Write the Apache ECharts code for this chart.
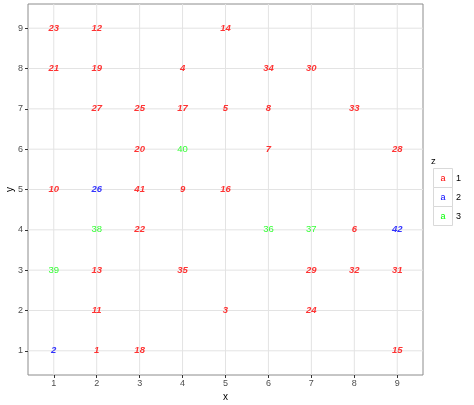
<!DOCTYPE html>
<html><head><meta charset="utf-8">
<script src="https://cdn.jsdelivr.net/npm/echarts@6/dist/echarts.min.js"></script>
<style>html,body{margin:0;padding:0;background:#fff}#c{width:474px;height:405px}</style>
</head><body><div id="c"></div>
<script>
// Data
const xVals  = [1,2,5, 1,2,4,6,7, 2,3,4,5,6,8, 3,4,6,9, 1,2,3,4,5, 2,3,6,7,8,9, 1,2,4,7,8,9, 2,5,7, 1,2,3,9];
const yVals  = [9,9,9, 8,8,8,8,8, 7,7,7,7,7,7, 6,6,6,6, 5,5,5,5,5, 4,4,4,4,4,4, 3,3,3,3,3,3, 2,2,2, 1,1,1,1];
const labels = [23,12,14, 21,19,4,34,30, 27,25,17,5,8,33, 20,40,7,28, 10,26,41,9,16, 38,22,36,37,6,42, 39,13,35,29,32,31, 11,3,24, 2,1,18,15];
const groups = [1,1,1, 1,1,1,1,1, 1,1,1,1,1,1, 1,3,1,1, 1,2,1,1,1, 3,1,3,3,1,2, 3,1,1,1,1,1, 1,1,1, 2,1,1,1];
const groupNames = ['1','2','3'];
const groupColors = ['#FF0000','#0000FF','#00FF00'];
const xTicks = [1,2,3,4,5,6,7,8,9];
const yTicks = [1,2,3,4,5,6,7,8,9];

const chart = echarts.init(document.getElementById('c'), null, {renderer:'canvas'});
const FONT = 'Liberation Sans, Arial, sans-serif';

const textSeries = groupNames.map((g, gi) => {
  const data = [];
  for (let i = 0; i < xVals.length; i++) {
    if (groups[i] === gi + 1) data.push([xVals[i], yVals[i], labels[i]]);
  }
  const fancy = gi < 2;
  return {
    type: 'scatter', name: g, data: data, z: 5,
    symbolSize: 4,
    itemStyle: {color: 'rgba(0,0,0,0)'},
    label: {
      show: true, position: 'inside',
      formatter: p => String(p.value[2]),
      color: groupColors[gi], fontFamily: FONT, fontSize: 9.5,
      fontWeight: fancy ? 'bold' : 'normal',
      fontStyle: fancy ? 'italic' : 'normal'
    },
    emphasis: {disabled: true}, silent: true
  };
});

const gridColor = '#E3E3E3';
const vGrid = {
  type: 'custom', z: 1, silent: true,
  data: xTicks.map(v => [v, 1]),
  renderItem: (params, api) => {
    const p1 = api.coord([api.value(0), 0.4]);
    const p2 = api.coord([api.value(0), 9.6]);
    return {type: 'line', shape: {x1: p1[0], y1: p1[1], x2: p2[0], y2: p2[1]},
            style: {stroke: gridColor, lineWidth: 1}};
  }
};
const hGrid = {
  type: 'custom', z: 1, silent: true,
  data: yTicks.map(v => [1, v]),
  renderItem: (params, api) => {
    const p1 = api.coord([0.4, api.value(1)]);
    const p2 = api.coord([9.6, api.value(1)]);
    return {type: 'line', shape: {x1: p1[0], y1: p1[1], x2: p2[0], y2: p2[1]},
            style: {stroke: gridColor, lineWidth: 1}};
  }
};

// legend drawn as graphics
const legendGraphics = [
  {type: 'text', left: 431, top: 156, style: {text: 'z', font: '9.5px ' + FONT, fill: '#000'}}
];
groupNames.forEach((g, i) => {
  const top = 168 + i * 19;
  legendGraphics.push({type: 'rect', shape: {x: 433.5, y: top + 0.5, width: 19, height: 19},
    style: {fill: '#fff', stroke: '#D9D9D9', lineWidth: 1}});
  legendGraphics.push({type: 'text', x: 443, y: top + 10.5, style: {text: 'a', font: '9px ' + FONT,
    fill: groupColors[i], align: 'center', verticalAlign: 'middle'}});
  legendGraphics.push({type: 'text', x: 456, y: top + 11, style: {text: g, font: '9px ' + FONT,
    fill: '#000', align: 'left', verticalAlign: 'middle'}});
});

chart.setOption({
  animation: false,
  backgroundColor: '#fff',
  grid: {left: 28, right: 51, top: 4, bottom: 30, containLabel: false, outerBoundsMode: 'none',
         show: true, borderColor: '#8C8C8C', borderWidth: 1, backgroundColor: '#fff'},
  xAxis: {
    type: 'value', min: 0.4, max: 9.6,
    name: 'x', nameLocation: 'middle', nameGap: 17, nameMoveOverlap: false,
    nameTextStyle: {fontFamily: FONT, fontSize: 10, color: '#000'},
    axisLine: {show: false},
    axisTick: {show: true, customValues: xTicks, length: 3, lineStyle: {color: '#333'}},
    axisLabel: {customValues: xTicks, fontFamily: FONT, fontSize: 9, color: '#4D4D4D', margin: 4},
    splitLine: {show: false}
  },
  yAxis: {
    type: 'value', min: 0.4, max: 9.6,
    name: 'y', nameLocation: 'middle', nameGap: 13, nameMoveOverlap: false,
    nameTextStyle: {fontFamily: FONT, fontSize: 10, color: '#000'},
    axisLine: {show: false},
    axisTick: {show: true, customValues: yTicks, length: 3, lineStyle: {color: '#333'}},
    axisLabel: {customValues: yTicks, fontFamily: FONT, fontSize: 9, color: '#4D4D4D', margin: 5},
    splitLine: {show: false}
  },
  graphic: legendGraphics,
  series: [vGrid, hGrid].concat(textSeries)
});
</script></body></html>
